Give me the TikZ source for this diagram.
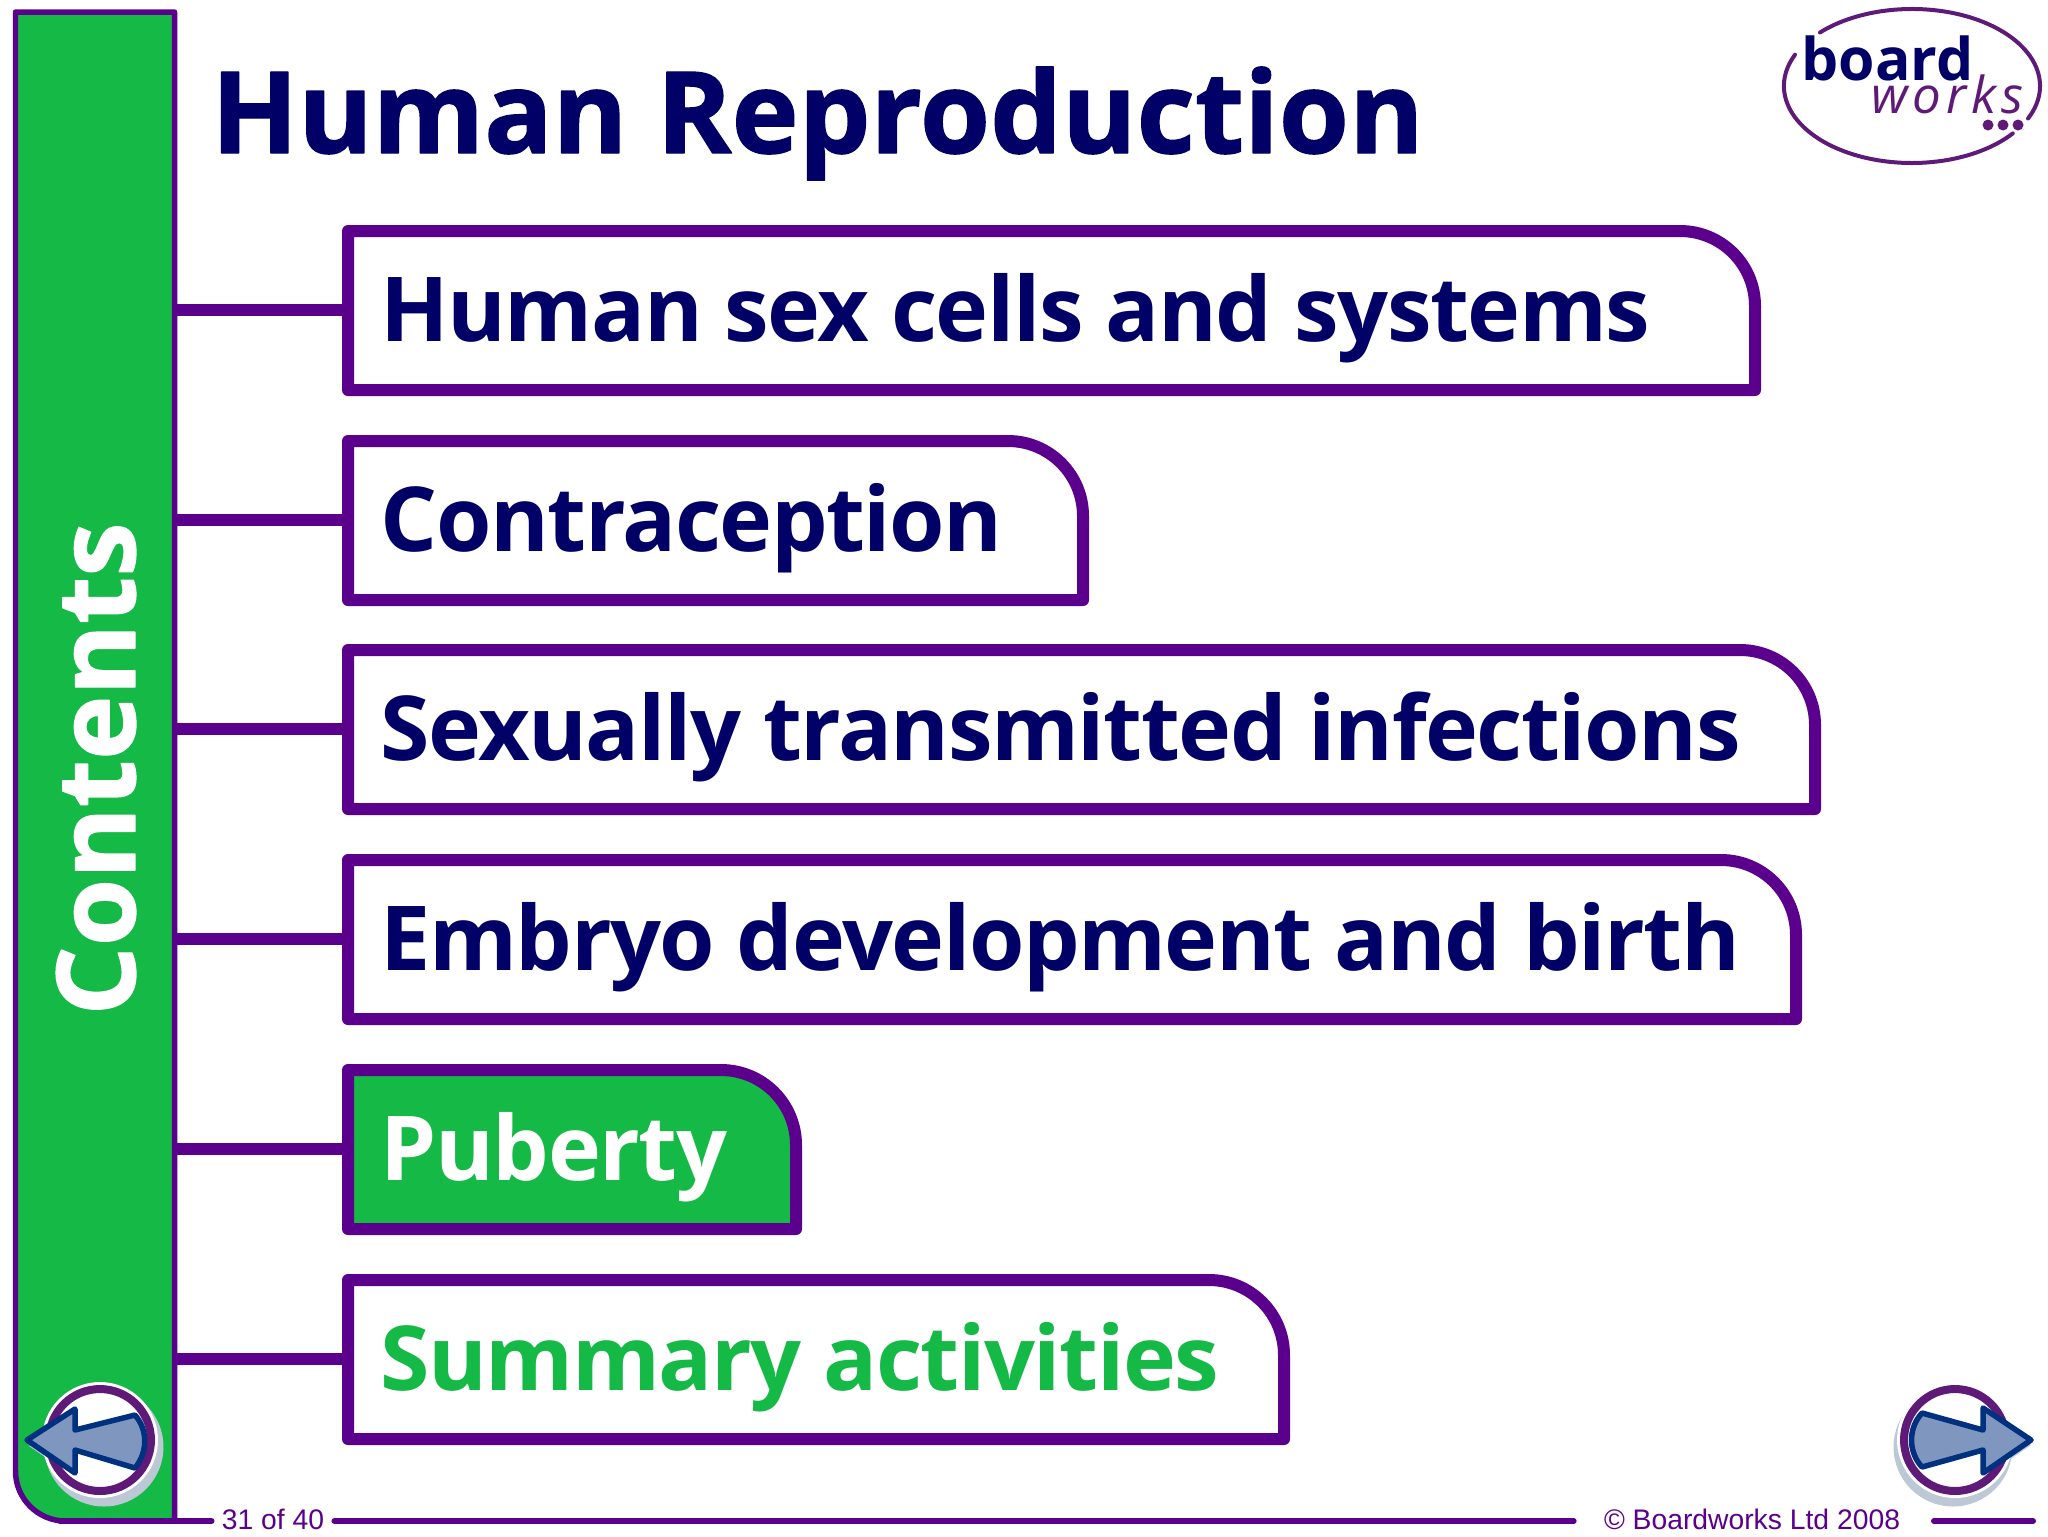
\documentclass[tikz,border=0pt]{standalone}
\usepackage{fontspec}
\setmainfont{Liberation Sans}
\newfontfamily\tabfont[LetterSpace=-1.6]{Open Sans}
\newfontfamily\logofont{Open Sans}
\newfontfamily\headfont[FakeBold=1.2]{Open Sans}
\newfontfamily\worksfont[LetterSpace=10]{Open Sans}
\usetikzlibrary{positioning,calc}
\definecolor{tabpurple}{HTML}{5A008C}
\definecolor{logopurple}{HTML}{5F1A78}
\definecolor{sidegreen}{HTML}{14B946}
\definecolor{titlenavy}{HTML}{000066}
\definecolor{arrowfill}{HTML}{7F97BF}
\definecolor{arrowline}{HTML}{003080}
\definecolor{haloshade}{HTML}{BCC8D6}
\tikzset{
	slide/.style={x=0.02cm,y=-0.02cm,line join=round},
	tabline/.style={draw=tabpurple,line width=0.24cm},
	stem/.style={draw=tabpurple,line width=0.24cm},
	sideline/.style={draw=tabpurple,line width=0.11cm},
	footline/.style={draw=tabpurple,line width=0.12cm,line cap=round},
	tablabel/.style={anchor=west,inner sep=0pt,inner xsep=0.64cm,minimum height=3.18cm,
		text height=1.24cm,text depth=0pt,
		font=\tabfont\bfseries\fontsize{51}{60}\selectfont},
	foottext/.style={inner sep=0pt,text=tabpurple,font=\fontsize{16.1}{18}\selectfont},
	navring/.style={circle,draw=logopurple,fill=white,line width=0.16cm,minimum size=2.04cm,inner sep=0pt},
	navarrow/.style={draw=arrowline,fill=arrowfill,line width=0.11cm},
	navshade/.style={fill=haloshade},
	logoline/.style={draw=logopurple,line width=0.08cm,line cap=round}
}
\begin{document}
\begin{tikzpicture}[slide]
	\useasboundingbox (0,0) rectangle (2048,1536);
	
	% sidebar
	\draw[sideline,fill=sidegreen] (15.5,12) -- (174.5,12) -- (174.5,1521)
		[rounded corners=1cm] -- (15.5,1521) [sharp corners] -- cycle;
	\node[minimum width=3.18cm,minimum height=30.18cm,inner sep=0pt] (side) at (95,766.5) {};
	\node[rotate=90,inner sep=0pt,text=white,font=\headfont\bfseries\fontsize{62}{70}\selectfont] (contents) at (96,769) {Contents};
	
	% title
	\node[anchor=base west,inner sep=0pt,text=titlenavy,font=\headfont\bfseries\fontsize{64.6}{70}\selectfont] (title) at (211,153) {Human Reproduction};
	
	% menu tabs
	\foreach \nm/\ytop/\xend/\txt/\bg/\fg in {
		cells/231/1755/Human sex cells and systems/white/titlenavy,
		contra/441/1083/Contraception/white/titlenavy,
		sti/650/1815/Sexually transmitted infections/white/titlenavy,
		embryo/860/1796/Embryo development and birth/white/titlenavy,
		puberty/1070/796/Puberty/sidegreen/white,
		summary/1280/1284/Summary activities/white/sidegreen}
	{
		\draw[tabline,fill=\bg] (348,\ytop+159) -- (348,\ytop)
			[rounded corners=1.5cm] -- (\xend,\ytop) [sharp corners] -- (\xend,\ytop+159) -- cycle;
		\node[tablabel,text=\fg] (\nm) at (348,\ytop+79) {\txt};
		\draw[stem] (side.east |- \nm.west) -- (\nm.west);
	}
	
	% footer
	\node[foottext] (page) at (273,1519) {31 of 40};
	\node[foottext] (copy) at (1752,1519) {\textcopyright{} Boardworks Ltd 2008};
	\coordinate (footl) at (60,1521);
	\coordinate (footm) at (1934,1521);
	\coordinate (footr) at (2033,1521);
	\draw[footline,shorten >=0.2cm] (footl) -- (footl -| page.west);
	\draw[footline,shorten <=0.2cm,shorten >=0.6cm] (footl -| page.east) -- (footl -| copy.west);
	\draw[footline] (footm) -- (footr);
	
	% back button
	\fill[navshade] (104,1447) circle (1.19cm);
	\fill[navshade,shift={(2,6)}] (27,1440) -- (75,1409) -- (75,1473) -- cycle;
	\fill[white] (100,1440) circle (1.16cm);
	\node[navring] (back) at (100,1440) {};
	\draw[navarrow] (27,1440) -- (75,1409) -- (75,1430) -- (135,1415)
		.. controls (148,1430) and (148,1452) .. (135,1468) -- (75,1450) -- (75,1473) -- cycle;
	
	% forward button
	\fill[navshade] (1953,1447) circle (1.19cm);
	\fill[navshade,shift={(0,5)}] (2031,1440) -- (1983,1408) -- (1983,1473) -- cycle;
	\fill[white] (1955,1440) circle (1.16cm);
	\node[navring] (next) at (1955,1440) {};
	\draw[navarrow] (2031,1440) -- (1983,1408) -- (1983,1430) -- (1922,1413)
		.. controls (1908,1428) and (1908,1452) .. (1922,1467) -- (1983,1450) -- (1983,1473) -- cycle;
	
	% logo
	\draw[logoline] (1795,54.7) arc[start angle=156,end angle=322,x radius=2.56cm,y radius=1.54cm];
	\draw[logoline] (2028,118.5) arc[start angle=-25,end angle=136,x radius=2.56cm,y radius=1.54cm];
	\node[anchor=base west,inner sep=0pt,text=titlenavy,font=\logofont\bfseries\fontsize{33.5}{36}\selectfont] (board) at (1801,80) {board};
	\node[anchor=base west,inner sep=0pt,text=logopurple,font=\worksfont\itshape\fontsize{29}{36}\selectfont] (works) at (1871,113) {works};
	\foreach \xdot in {1988,2003,2018}
		\fill[logopurple] (\xdot,125) circle (0.11cm);
\end{tikzpicture}
\end{document}
